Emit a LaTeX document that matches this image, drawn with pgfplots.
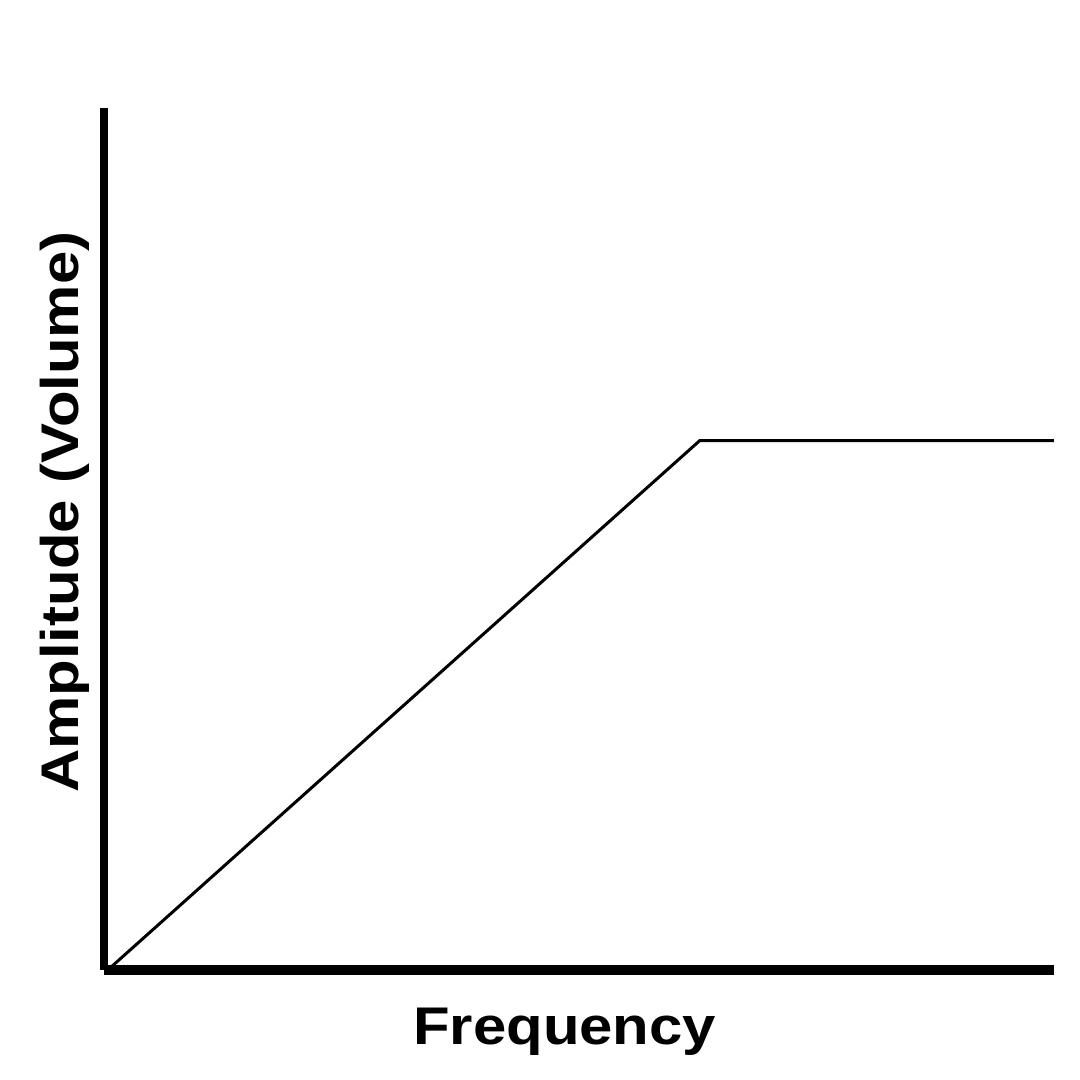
\documentclass[border=0pt]{standalone}
\usepackage{pgfplots}
\pgfplotsset{compat=1.18}
\usepackage{fontspec}
\newfontfamily\labfont[FakeStretch=1.13]{Liberation Sans}

\begin{document}
\begin{tikzpicture}
\begin{axis}[
  scale only axis,
  width=475pt,height=431pt,
  xmin=0,xmax=1,ymin=0,ymax=1,
  axis x line=bottom,axis y line=left,
  axis line style={-},
  x axis line style={line width=5pt},
  y axis line style={line width=4pt},
  xtick=\empty,ytick=\empty,
  clip=false,
  xlabel={Frequency},ylabel={Amplitude (Volume)},
  every axis x label/.style={at={(rel axis cs:0.485,-0.0715)},anchor=center,
    font=\labfont\bfseries\fontsize{26.5}{30}\selectfont},
  every axis y label/.style={at={(rel axis cs:-0.0415,0.531)},anchor=center,rotate=90,
    font=\labfont\bfseries\fontsize{26.5}{30}\selectfont},
]
\addplot[black,line width=1.5pt] coordinates {
  (0.004,0) (0.627,0.614) (1,0.614)
};
\path (axis cs:-0.1095,-0.1276) rectangle (axis cs:1.0274,1.1253);
\end{axis}
\end{tikzpicture}
\end{document}
